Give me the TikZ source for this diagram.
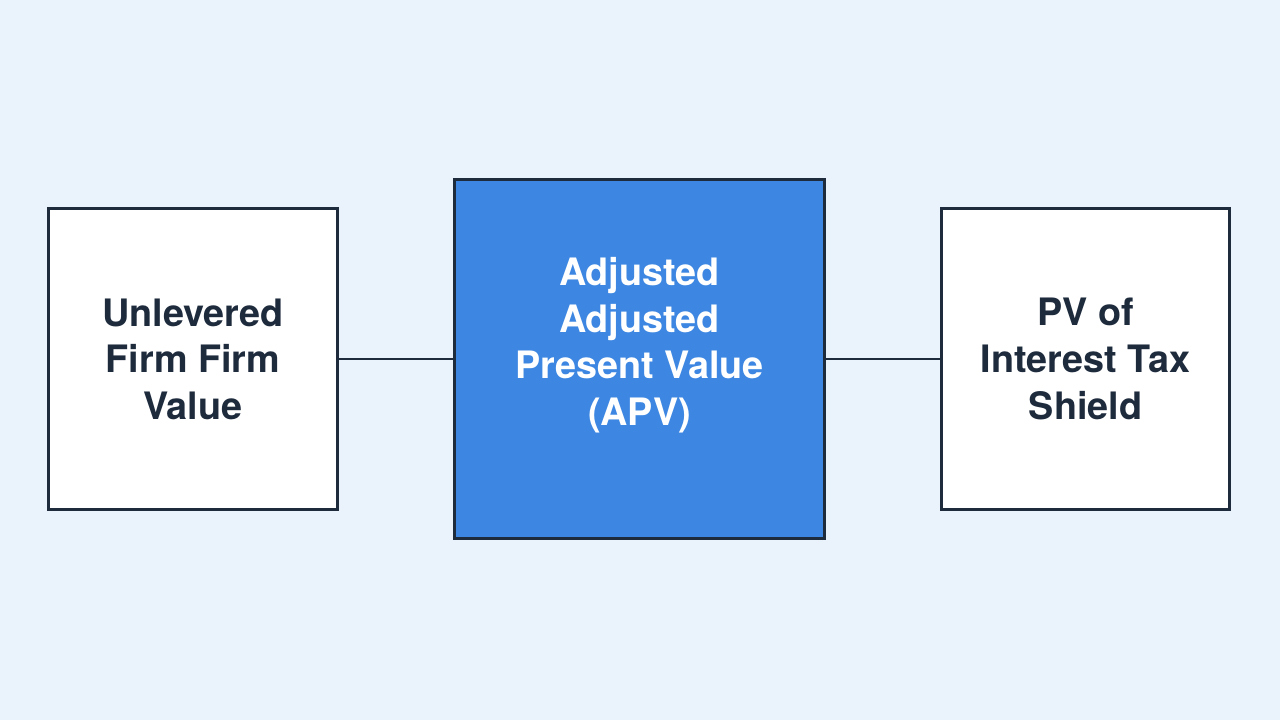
\documentclass[tikz,border=0pt]{standalone}
\usepackage{fontspec}
\setmainfont{TeX Gyre Heros}
\usetikzlibrary{positioning}
\definecolor{navy}{HTML}{1E2B3D}
\definecolor{apvblue}{HTML}{3D87E2}
\definecolor{bgblue}{HTML}{EAF3FC}

\begin{document}
\begin{tikzpicture}[x=0.02cm, y=-0.02cm,
  vbox/.style={rectangle, draw=navy, line width=1.7pt, fill=#1, align=center, font=\fontsize{21.5}{26.5}\selectfont\bfseries, inner sep=0pt}
]
  \fill[bgblue] (0,0) rectangle (1280,720);
  \node[vbox=white, text=navy, minimum width=5.8cm, minimum height=6.04cm] (unlev) at (193,359) {Unlevered\\Firm Firm\\Value};
  \node[vbox=apvblue, text=white, minimum width=7.42cm, minimum height=7.18cm] (apv) at (639.5,359) {Adjusted\\Adjusted\\Present Value\\(APV)\\[-0.3em]};
  \node[vbox=white, text=navy, minimum width=5.78cm, minimum height=6.04cm] (shield) at (1085.5,359) {PV of\\Interest Tax\\Shield};
  \draw[navy, line width=1.7pt] (unlev) -- (apv);
  \draw[navy, line width=1.7pt] (apv) -- (shield);
\end{tikzpicture}
\end{document}
